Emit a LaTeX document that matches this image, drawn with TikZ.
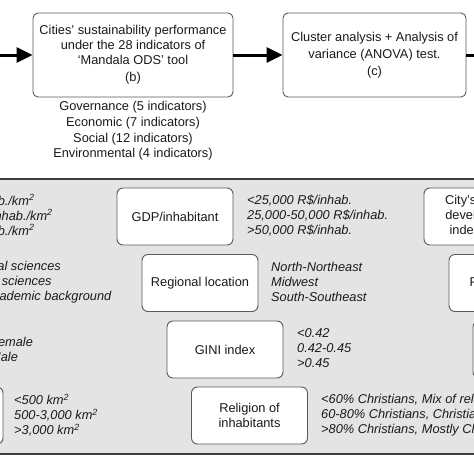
\documentclass[tikz,border=0pt]{standalone}
\usepackage{fontspec}
\setmainfont{Liberation Sans}
\usetikzlibrary{arrows.meta}
\definecolor{panelgray}{HTML}{E4E4E4}
\definecolor{panelborder}{HTML}{3C3C3C}
\definecolor{boxgray}{HTML}{5A5A5A}
\definecolor{ink}{HTML}{1A1A1A}
\tikzset{
  basefont/.style={font=\fontsize{12.8}{15}\selectfont},
  topbox/.style={draw=boxgray, fill=white, rounded corners=5pt, line width=0.9pt,
    align=center, inner sep=0pt, minimum height=84pt, text=ink},
  catbox/.style={draw=boxgray, fill=white, rounded corners=6pt, line width=0.9pt,
    align=center, inner sep=0pt, minimum width=116pt, minimum height=57pt, text=ink},
  vals/.style={align=left, font=\fontsize{12.8}{15}\selectfont\itshape, inner sep=0pt,
    anchor=west, text=ink},
  flow/.style={line width=3pt, draw=black, -{Triangle[length=16pt,width=15pt]}},
  plain/.style={line width=3pt, draw=black},
}
\begin{document}
\begin{tikzpicture}[x=1pt,y=-1pt,basefont]
\useasboundingbox (0,0) rectangle (474,474);
\clip (0,0) rectangle (474,474);
\fill[white] (0,0) rectangle (474,474);

% top row
\node[topbox, minimum width=200pt] (b) at (133,55)
  {Cities’ sustainability performance\\under the 28 indicators of\\‘Mandala ODS’ tool\\[2pt](b)};
\node[topbox, minimum width=183pt, font=\fontsize{12.8}{16.7}\selectfont] (c) at (374.5,55)
  {Cluster analysis + Analysis of\\variance (ANOVA) test.\\(c)};
\node[align=center, inner sep=0pt, text=ink, font=\fontsize{12.8}{15.6}\selectfont] (ind) at (133,131)
  {Governance (5 indicators)\\Economic (7 indicators)\\Social (12 indicators)\\Environmental (4 indicators)};

\coordinate (start) at (0,55);
\coordinate (endc) at (480,55);
\draw[flow] (start) -- (b.west);
\draw[flow] (b.east) -- (c.west);
\draw[plain] (c.east) -- (endc);

% lower panel
\draw[line width=2pt, draw=panelborder, fill=panelgray] (-20,179) rectangle (494,454);

\node[catbox] (gdp) at (175,216.5) {GDP/inhabitant};
\node[catbox] (reg) at (200,283) {Regional location};
\node[catbox] (gini) at (225,349.5) {GINI index};
\node[catbox] (rel) at (249.5,415.5) {Religion of\\inhabitants};
\node[catbox] (hdi) at (482,216.5) {City’s human\\development\\index (HDI)};
\node[catbox, minimum width=128pt] (pop) at (513,283) {Population size};
\node[catbox] (rgt) at (531,349.5) {};
\node[catbox] (area) at (-55,415.5) {Area};

\node[vals] (vgdp) at (247,216) {<25,000 R\$/inhab.\\25,000-50,000 R\$/inhab.\\>50,000 R\$/inhab.};
\node[vals] (vreg) at (271,282) {North-Northeast\\Midwest\\South-Southeast};
\node[vals] (vgini) at (297,348.5) {<0.42\\0.42-0.45\\>0.45};
\node[vals] (vrel) at (321,415) {<60\% Christians, Mix of religions\\60-80\% Christians, Christian majority\\>80\% Christians, Mostly Christians};
\node[vals] (vden) at (-59,215) {<100 inhab./km\textsuperscript{2}\\100-500 inhab./km\textsuperscript{2}\\>500 inhab./km\textsuperscript{2}};
\node[vals] (vacad) at (-34,282) {Natural sciences\\Exact sciences\\No academic background};
\node[vals] (vgen) at (-10,349.5) {Female\\Male};
\node[vals] (varea) at (14,415) {<500 km\textsuperscript{2}\\500-3,000 km\textsuperscript{2}\\>3,000 km\textsuperscript{2}};
\end{tikzpicture}
\end{document}
